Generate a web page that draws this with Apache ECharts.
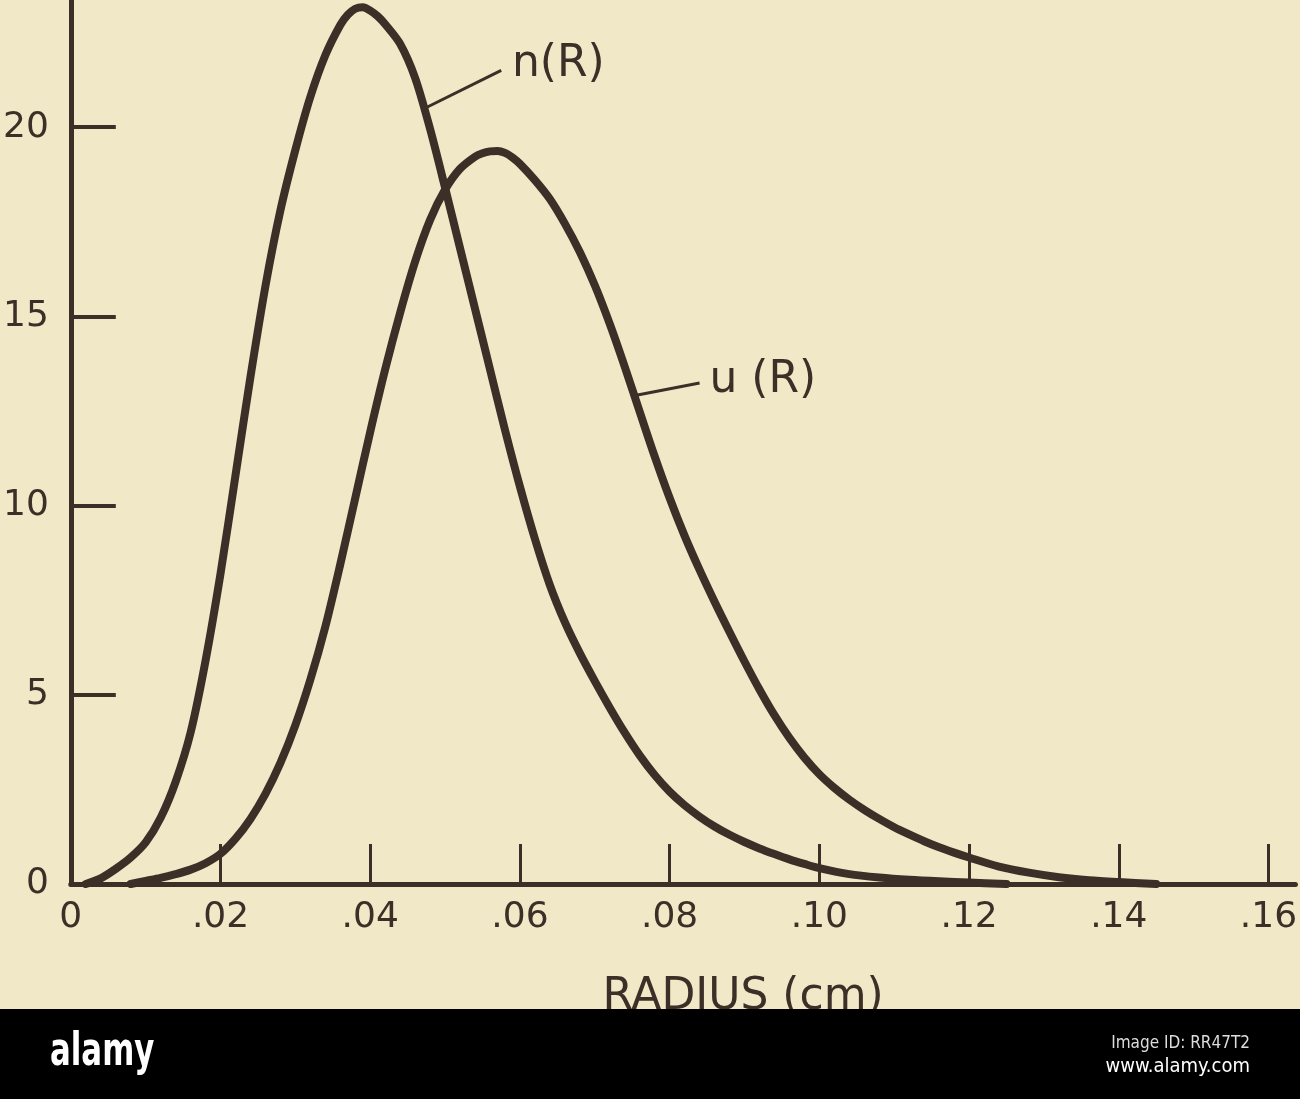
<!DOCTYPE html>
<html>
<head>
<meta charset="utf-8">
<script src="https://cdn.jsdelivr.net/npm/echarts@6/dist/echarts.min.js"></script>
<style>
html,body{margin:0;padding:0;background:#f0e8c6;}
#chart{width:1300px;height:1099px;}
</style>
</head>
<body>
<div id="chart"></div>
<script>
// Radius (cm) and values
const nRadius = [0.002, 0.004, 0.006, 0.008, 0.010, 0.012, 0.014, 0.016, 0.018, 0.020, 0.022, 0.024, 0.026, 0.028, 0.030, 0.032, 0.034, 0.036, 0.037, 0.038, 0.039, 0.040, 0.041, 0.042, 0.044, 0.046, 0.048, 0.050, 0.052, 0.054, 0.056, 0.058, 0.060, 0.062, 0.064, 0.066, 0.068, 0.070, 0.072, 0.074, 0.076, 0.078, 0.080, 0.082, 0.084, 0.086, 0.088, 0.090, 0.092, 0.094, 0.096, 0.098, 0.100, 0.104, 0.108, 0.112, 0.116, 0.120, 0.125];
const nValues = [0, 0.15, 0.4, 0.7, 1.1, 1.75, 2.7, 4.0, 5.9, 8.2, 10.8, 13.4, 15.8, 17.8, 19.4, 20.8, 21.9, 22.7, 22.97, 23.13, 23.17, 23.08, 22.93, 22.72, 22.2, 21.3, 19.95, 18.4, 16.8, 15.2, 13.6, 12.0, 10.5, 9.12, 7.9, 6.92, 6.1, 5.36, 4.66, 4.0, 3.4, 2.88, 2.44, 2.08, 1.78, 1.52, 1.3, 1.11, 0.94, 0.79, 0.65, 0.53, 0.42, 0.26, 0.17, 0.11, 0.07, 0.04, 0];

const uRadius = [0.008, 0.010, 0.012, 0.014, 0.016, 0.018, 0.020, 0.022, 0.024, 0.026, 0.028, 0.030, 0.032, 0.034, 0.036, 0.038, 0.040, 0.042, 0.044, 0.046, 0.048, 0.050, 0.052, 0.054, 0.055, 0.056, 0.057, 0.058, 0.059, 0.060, 0.062, 0.064, 0.066, 0.068, 0.070, 0.072, 0.074, 0.076, 0.078, 0.080, 0.082, 0.084, 0.086, 0.088, 0.090, 0.092, 0.094, 0.096, 0.098, 0.100, 0.102, 0.104, 0.106, 0.108, 0.110, 0.112, 0.114, 0.116, 0.118, 0.120, 0.124, 0.128, 0.132, 0.136, 0.140, 0.145];
const uValues = [0, 0.08, 0.16, 0.26, 0.38, 0.55, 0.8, 1.2, 1.72, 2.38, 3.2, 4.2, 5.4, 6.8, 8.45, 10.2, 11.95, 13.6, 15.1, 16.45, 17.55, 18.35, 18.9, 19.22, 19.31, 19.36, 19.37, 19.32, 19.2, 19.03, 18.6, 18.1, 17.45, 16.7, 15.82, 14.8, 13.67, 12.48, 11.3, 10.2, 9.2, 8.3, 7.46, 6.66, 5.88, 5.14, 4.46, 3.86, 3.34, 2.9, 2.54, 2.23, 1.96, 1.72, 1.5, 1.31, 1.13, 0.97, 0.83, 0.7, 0.46, 0.3, 0.18, 0.1, 0.05, 0];

const xTickLabels = [0, 0.02, 0.04, 0.06, 0.08, 0.10, 0.12, 0.14, 0.16];
const xTickMarks = [0.02, 0.04, 0.06, 0.08, 0.10, 0.12, 0.14, 0.16];
const yTickLabels = [0, 5, 10, 15, 20];
const yTickMarks = [5, 10, 15, 20];

// label leader lines (data coords: point on curve -> text anchor)
const nLeader = [[0.0473, 20.5], [0.0575, 21.5]];
const uLeader = [[0.0752, 12.9], [0.084, 13.24]];

const ink = '#3b2f27';
const font = 'DejaVu Sans';

const chart = echarts.init(document.getElementById('chart'), null, {renderer: 'canvas'});

function zip(a, b) { return a.map((v, i) => [v, b[i]]); }

chart.setOption({
  backgroundColor: '#f0e8c6',
  animation: false,
  grid: {left: 66, right: 0, top: 0, bottom: 215, containLabel: false},
  xAxis: {
    type: 'value', min: 0, max: 0.1636, interval: 0.02,
    name: 'RADIUS (cm)', nameLocation: 'middle', nameGap: 92,
    nameTextStyle: {fontFamily: font, fontSize: 44, color: ink, padding: [0, 0, 0, 120]},
    splitLine: {show: false},
    axisLine: {show: true, onZero: false, lineStyle: {color: ink, width: 5}},
    axisTick: {show: true, inside: true, length: 40, customValues: xTickMarks, lineStyle: {color: ink, width: 3}},
    axisLabel: {
      customValues: xTickLabels, margin: 16,
      fontFamily: font, fontSize: 36, color: ink,
      formatter: v => v === 0 ? '0' : v.toFixed(2).replace(/^0/, '')
    }
  },
  yAxis: {
    type: 'value', min: 0, max: 23.36, interval: 5,
    splitLine: {show: false},
    axisLine: {show: true, onZero: false, lineStyle: {color: ink, width: 5}},
    axisTick: {show: true, inside: true, length: 45, customValues: yTickMarks, lineStyle: {color: ink, width: 4}},
    axisLabel: {customValues: yTickLabels, margin: 22, fontFamily: font, fontSize: 36, color: ink}
  },
  series: [
    {
      type: 'line', name: 'n(R)', data: zip(nRadius, nValues),
      smooth: 0.3, showSymbol: false, symbol: 'none',
      lineStyle: {color: ink, width: 8, cap: 'round', join: 'round'},
      markLine: {
        silent: true, symbol: 'none',
        lineStyle: {color: ink, width: 3, type: 'solid'},
        label: {show: true, position: 'end', formatter: 'n(R)', fontFamily: font, fontSize: 44, color: ink, distance: 12},
        data: [[{coord: nLeader[0]}, {coord: nLeader[1]}]]
      }
    },
    {
      type: 'line', name: 'u(R)', data: zip(uRadius, uValues),
      smooth: 0.3, showSymbol: false, symbol: 'none',
      lineStyle: {color: ink, width: 8, cap: 'round', join: 'round'},
      markLine: {
        silent: true, symbol: 'none',
        lineStyle: {color: ink, width: 3, type: 'solid'},
        label: {show: true, position: 'end', formatter: 'u (R)', fontFamily: font, fontSize: 44, color: ink, distance: 10},
        data: [[{coord: uLeader[0]}, {coord: uLeader[1]}]]
      }
    }
  ],
  graphic: [
    {type: 'rect', left: 0, bottom: 0, shape: {width: 1300, height: 90}, style: {fill: '#000'}, z: 100},
    {type: 'text', x: 50, y: 1030, scaleX: 0.67, z: 101,
      style: {text: 'alamy', fill: '#fff', verticalAlign: 'top', font: 'bold 46px "DejaVu Sans", sans-serif'}},
    {type: 'text', right: 50, bottom: 47, z: 101,
      style: {text: 'Image ID: RR47T2', fill: '#ddd', font: '17px "Liberation Sans Narrow", "DejaVu Sans Condensed", sans-serif', align: 'right'}},
    {type: 'text', right: 50, bottom: 22, z: 101,
      style: {text: 'www.alamy.com', fill: '#fff', font: '20px "Liberation Sans Narrow", "DejaVu Sans Condensed", sans-serif', align: 'right'}}
  ]
});
</script>
</body>
</html>
